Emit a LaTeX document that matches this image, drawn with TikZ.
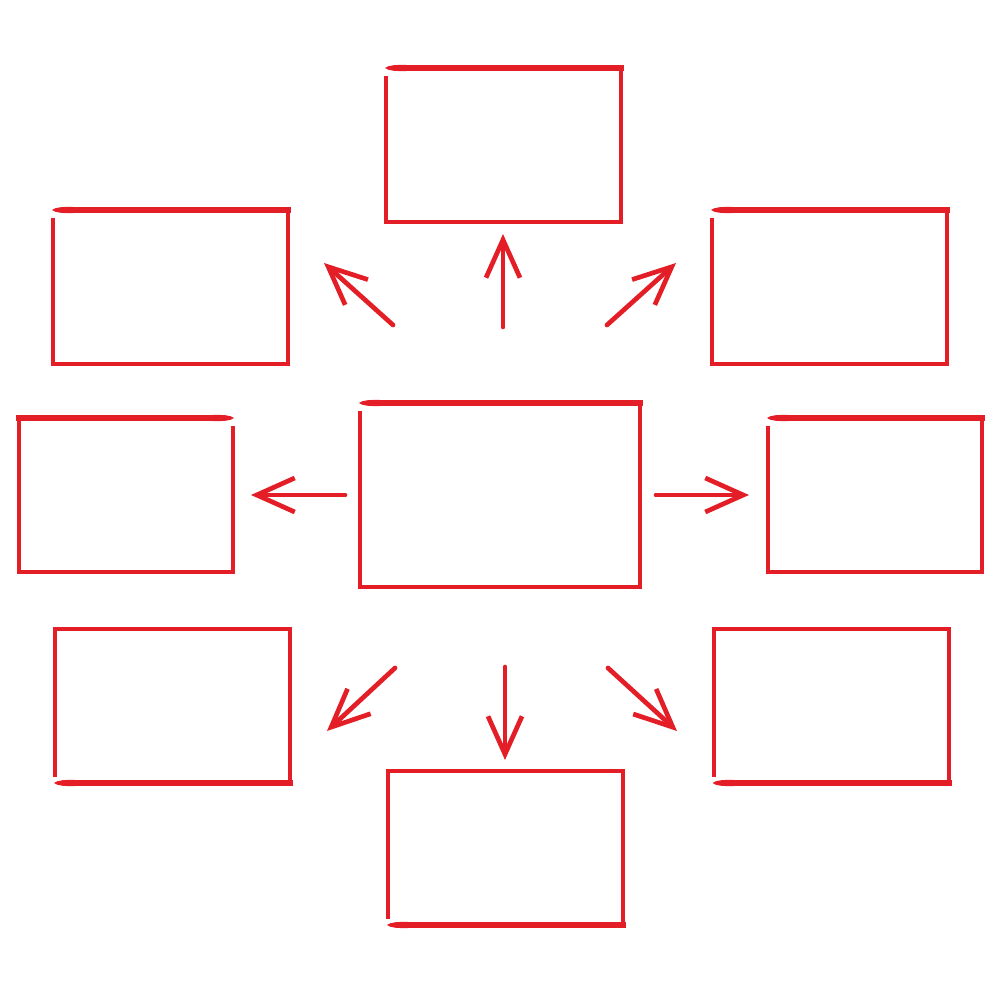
\documentclass[tikz,border=0pt]{standalone}
\usepackage{tikz}
\usetikzlibrary{calc}
\usetikzlibrary{arrows.meta}

\definecolor{marker}{RGB}{228,30,38}

% tapered marker stroke: thin end at #1, square end at #2
\newcommand{\tipL}[2]{%
  \fill[marker] ($(#1)+(-1,0)$) .. controls ($(#1)+(3,3.1)$) and ($(#1)+(10,3.1)$) .. ($(#1)+(20,3.1)$)
    -- ($(#1)+(20,-3.1)$) .. controls ($(#1)+(10,-3.1)$) and ($(#1)+(3,-3.1)$) .. cycle;
  \draw[thickpen] ($(#1)+(19,0)$) -- (#2);}
\newcommand{\tipR}[2]{%
  \fill[marker] ($(#1)+(1,0)$) .. controls ($(#1)+(-3,3.1)$) and ($(#1)+(-10,3.1)$) .. ($(#1)+(-20,3.1)$)
    -- ($(#1)+(-20,-3.1)$) .. controls ($(#1)+(-10,-3.1)$) and ($(#1)+(-3,-3.1)$) .. cycle;
  \draw[thickpen] ($(#1)+(-19,0)$) -- (#2);}

% hand drawn outlines round a named node
\newcommand{\boxtop}[1]{%
  \draw[pen] ($(#1.north west)+(0,-10)$) -- (#1.south west) -- (#1.south east) -- (#1.north east);
  \tipL{#1.north west}{#1.north east}}
\newcommand{\boxbot}[1]{%
  \draw[pen] ($(#1.south west)+(0,8)$) -- (#1.north west) -- (#1.north east) -- (#1.south east);
  \tipL{#1.south west}{#1.south east}}
\newcommand{\boxrt}[1]{%
  \draw[pen] ($(#1.north east)+(0,-10)$) -- (#1.south east) -- (#1.south west) -- (#1.north west);
  \tipR{#1.north east}{#1.north west}}

\begin{document}
\begin{tikzpicture}[x=0.1mm, y=0.1mm,
    slot/.style={inner sep=0pt, outer sep=0pt, minimum width=23.5mm, minimum height=15.4mm},
    sideslot/.style={slot, minimum width=21.4mm},
    mainslot/.style={slot, minimum width=28mm, minimum height=18.4mm},
    pen/.style={draw=marker, line width=0.4mm, line join=miter, line cap=rect},
    thickpen/.style={draw=marker, line width=0.6mm, line cap=rect},
    arr/.style={draw=marker, line width=0.47mm, line cap=round,
        -{Straight Barb[length=3.8mm, width=3.4mm, line width=0.47mm]}}]
    \useasboundingbox (0,0) rectangle (1000,1000);

    % boxes
    \node[mainslot] (mid) at (500,505) {};
    \node[slot] (top) at (503.5,855) {};
    \node[slot] (topleft) at (170.5,713) {};
    \node[slot] (topright) at (829.5,713) {};
    \node[sideslot] (left) at (126,505) {};
    \node[sideslot] (right) at (875,505) {};
    \node[slot] (botleft) at (172.5,294) {};
    \node[slot] (botright) at (831,294) {};
    \node[slot] (bot) at (505.5,152) {};

    \boxtop{mid}
    \boxtop{top}
    \boxtop{topleft}
    \boxtop{topright}
    \boxtop{right}
    \boxrt{left}
    \boxbot{botleft}
    \boxbot{bot}
    \boxbot{botright}

    % arrow ends
    \coordinate (uA) at (503,673);  \coordinate (uB) at (503,766);
    \coordinate (ulA) at (393,675); \coordinate (ulB) at (324,737);
    \coordinate (urA) at (607,675); \coordinate (urB) at (676,737);
    \coordinate (lA) at (345,505);  \coordinate (lB) at (251,505);
    \coordinate (rA) at (656,505);  \coordinate (rB) at (749,505);
    \coordinate (dlA) at (395,332); \coordinate (dlB) at (327,269);
    \coordinate (dA) at (505,333);  \coordinate (dB) at (505,240);
    \coordinate (drA) at (608,332); \coordinate (drB) at (677,269);

    % arrows
    \draw[arr] (uA) -- (uB);
    \draw[arr] (ulA) -- (ulB);
    \draw[arr] (urA) -- (urB);
    \draw[arr] (lA) -- (lB);
    \draw[arr] (rA) -- (rB);
    \draw[arr] (dlA) -- (dlB);
    \draw[arr] (dA) -- (dB);
    \draw[arr] (drA) -- (drB);
\end{tikzpicture}
\end{document}
